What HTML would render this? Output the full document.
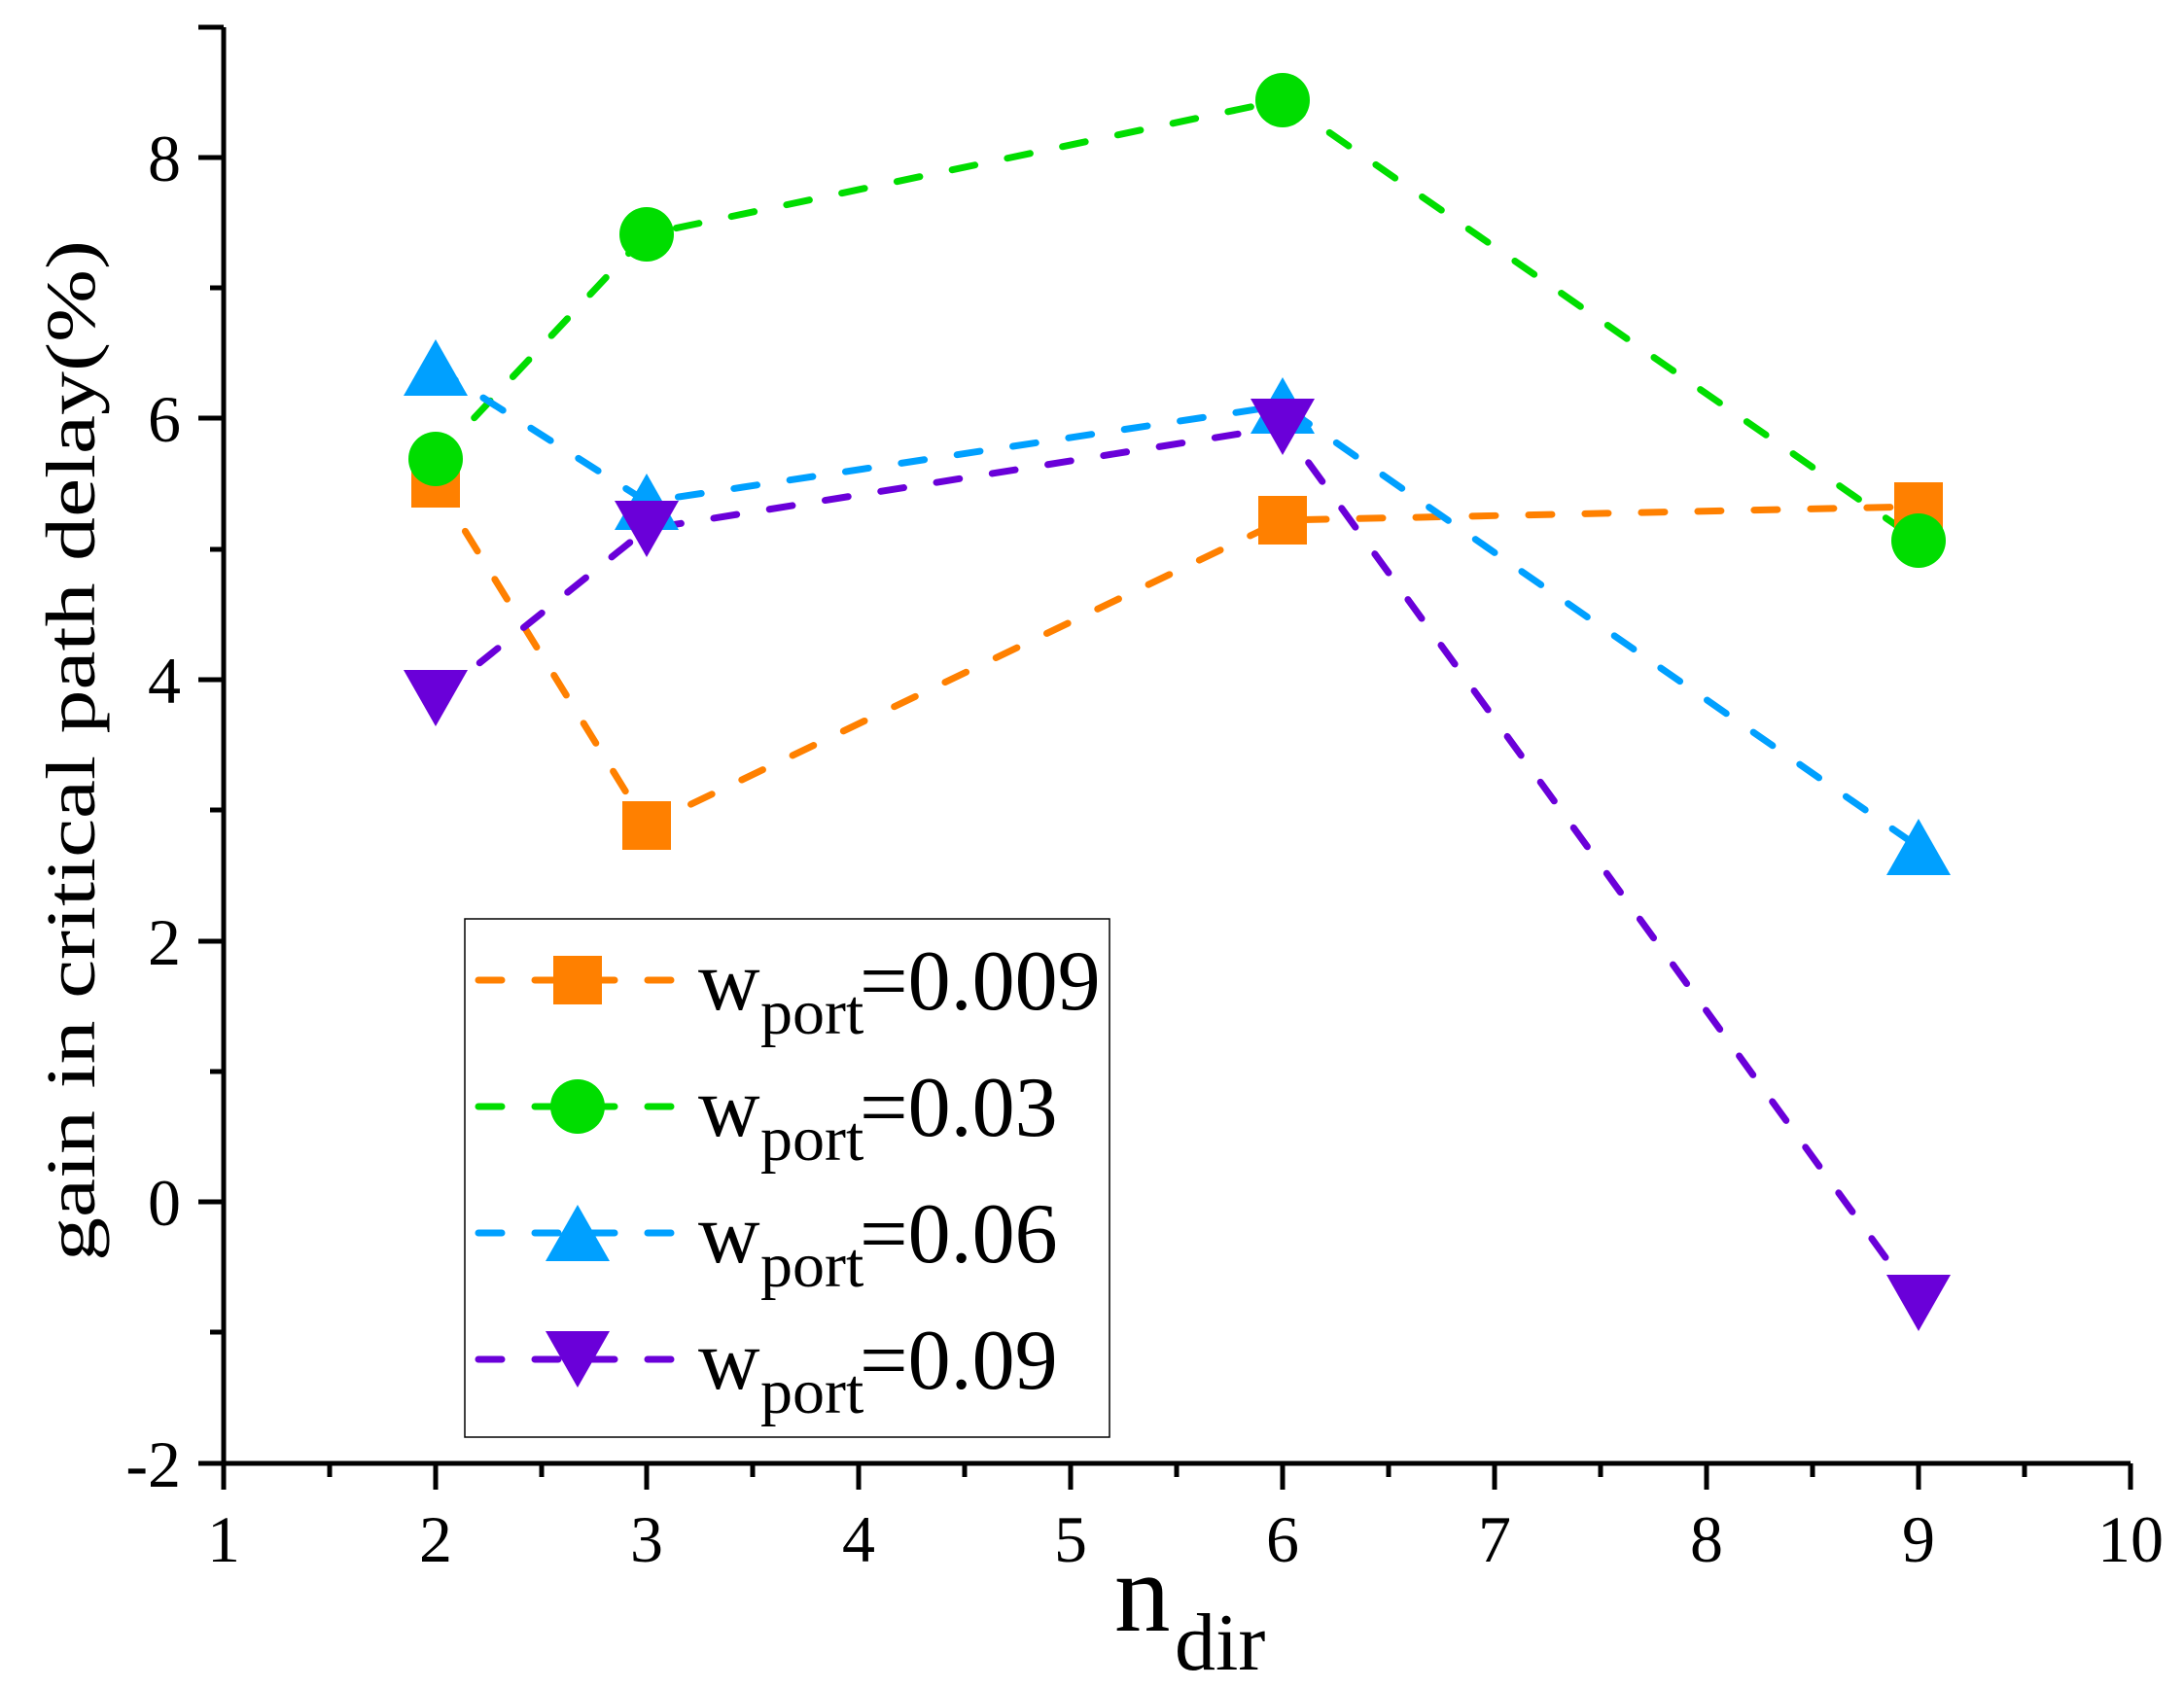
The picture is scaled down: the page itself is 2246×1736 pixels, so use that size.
<!DOCTYPE html>
<html><head><meta charset="utf-8"><style>
html,body{margin:0;padding:0;background:#fff;}
svg{display:block;}
svg text{font-family:"Liberation Serif","Times New Roman",Times,serif !important;fill:#000;font-weight:normal;}
</style></head><body>
<svg width="2246" height="1736" viewBox="0 0 2246 1736" xmlns="http://www.w3.org/2000/svg" font-family="Liberation Serif, Times New Roman, serif">
<g stroke="#000" stroke-width="5" fill="none">
<line x1="230" y1="28" x2="230" y2="1507"/>
<line x1="204" y1="1505" x2="2191" y2="1505"/>
<line x1="2191" y1="1505" x2="2191" y2="1532"/>
<line x1="204" y1="28" x2="230" y2="28"/>
<line x1="230" y1="1505" x2="230" y2="1532"/>
<line x1="448" y1="1505" x2="448" y2="1532"/>
<line x1="665" y1="1505" x2="665" y2="1532"/>
<line x1="883" y1="1505" x2="883" y2="1532"/>
<line x1="1101" y1="1505" x2="1101" y2="1532"/>
<line x1="1319" y1="1505" x2="1319" y2="1532"/>
<line x1="1537" y1="1505" x2="1537" y2="1532"/>
<line x1="1755" y1="1505" x2="1755" y2="1532"/>
<line x1="1973" y1="1505" x2="1973" y2="1532"/>
<line x1="339" y1="1505" x2="339" y2="1519"/>
<line x1="557" y1="1505" x2="557" y2="1519"/>
<line x1="774" y1="1505" x2="774" y2="1519"/>
<line x1="992" y1="1505" x2="992" y2="1519"/>
<line x1="1210" y1="1505" x2="1210" y2="1519"/>
<line x1="1428" y1="1505" x2="1428" y2="1519"/>
<line x1="1646" y1="1505" x2="1646" y2="1519"/>
<line x1="1864" y1="1505" x2="1864" y2="1519"/>
<line x1="2082" y1="1505" x2="2082" y2="1519"/>
<line x1="204" y1="1505" x2="230" y2="1505"/>
<line x1="204" y1="1236" x2="230" y2="1236"/>
<line x1="204" y1="968" x2="230" y2="968"/>
<line x1="204" y1="699" x2="230" y2="699"/>
<line x1="204" y1="430" x2="230" y2="430"/>
<line x1="204" y1="162" x2="230" y2="162"/>
<line x1="216" y1="1370" x2="230" y2="1370"/>
<line x1="216" y1="1102" x2="230" y2="1102"/>
<line x1="216" y1="833" x2="230" y2="833"/>
<line x1="216" y1="565" x2="230" y2="565"/>
<line x1="216" y1="296" x2="230" y2="296"/>
</g>
<g font-size="68" text-anchor="end">
<text x="186" y="1529">-2</text>
<text x="186" y="1260">0</text>
<text x="186" y="992">2</text>
<text x="186" y="723">4</text>
<text x="186" y="454">6</text>
<text x="186" y="186">8</text>
</g>
<g font-size="68" text-anchor="middle">
<text x="230" y="1606">1</text>
<text x="448" y="1606">2</text>
<text x="665" y="1606">3</text>
<text x="883" y="1606">4</text>
<text x="1101" y="1606">5</text>
<text x="1319" y="1606">6</text>
<text x="1537" y="1606">7</text>
<text x="1755" y="1606">8</text>
<text x="1973" y="1606">9</text>
<text x="2191" y="1606">10</text>
</g>
<text x="1146" y="1677" font-size="115">n</text>
<text x="1208" y="1717" font-size="84">dir</text>
<text transform="translate(97,1297) rotate(-90)" font-size="72" textLength="1050" lengthAdjust="spacingAndGlyphs">gain in critical path delay(%)</text>

<g fill="none" stroke-width="7" stroke-linecap="round" stroke-dasharray="24 34">
<polyline stroke="#FF8000" points="448,497 665,849 1319,535 1973,521"/>
<polyline stroke="#00DD00" points="448,472 665,241 1319,103 1973,556"/>
<polyline stroke="#00A0FF" points="448,378 665,516 1319,417 1973,871"/>
<polyline stroke="#6A00D9" points="448,718 665,544 1319,439 1973,1340"/>
</g>
<g fill="#FF8000">
<rect x="423" y="472" width="50" height="50"/>
<rect x="640" y="824" width="50" height="50"/>
<rect x="1294" y="510" width="50" height="50"/>
<rect x="1948" y="496" width="50" height="50"/>
</g>
<g fill="#00DD00">
<circle cx="448" cy="472" r="28"/>
<circle cx="665" cy="241" r="28"/>
<circle cx="1319" cy="103" r="28"/>
<circle cx="1973" cy="556" r="28"/>
</g>
<g fill="#00A0FF">
<polygon points="448,349 481,407 415,407"/>
<polygon points="665,487 698,545 632,545"/>
<polygon points="1319,388 1352,446 1286,446"/>
<polygon points="1973,842 2006,900 1940,900"/>
</g>
<g fill="#6A00D9">
<polygon points="415,689 481,689 448,747"/>
<polygon points="632,515 698,515 665,573"/>
<polygon points="1286,410 1352,410 1319,468"/>
<polygon points="1940,1311 2006,1311 1973,1369"/>
</g>

<rect x="478" y="945" width="663" height="533" fill="#fff" stroke="#000" stroke-width="1.5"/>
<g fill="none" stroke-width="7" stroke-linecap="round">
<line x1="492" y1="1008" x2="692" y2="1008" stroke="#FF8000" stroke-dasharray="24 34"/>
<line x1="492" y1="1138" x2="692" y2="1138" stroke="#00DD00" stroke-dasharray="24 34"/>
<line x1="492" y1="1268" x2="692" y2="1268" stroke="#00A0FF" stroke-dasharray="24 34"/>
<line x1="492" y1="1398" x2="692" y2="1398" stroke="#6A00D9" stroke-dasharray="24 34"/>
</g>
<rect x="569" y="983" width="50" height="50" fill="#FF8000"/>
<circle cx="594" cy="1138" r="28" fill="#00DD00"/>
<polygon points="594,1239 627,1297 561,1297" fill="#00A0FF"/>
<polygon points="561,1369 627,1369 594,1427" fill="#6A00D9"/>
<g>
<text x="718" y="1038" font-size="88">w</text><text x="782" y="1063" font-size="66">port</text><text x="884" y="1038" font-size="88">=0.009</text>
<text x="718" y="1168" font-size="88">w</text><text x="782" y="1193" font-size="66">port</text><text x="884" y="1168" font-size="88">=0.03</text>
<text x="718" y="1298" font-size="88">w</text><text x="782" y="1323" font-size="66">port</text><text x="884" y="1298" font-size="88">=0.06</text>
<text x="718" y="1428" font-size="88">w</text><text x="782" y="1453" font-size="66">port</text><text x="884" y="1428" font-size="88">=0.09</text>
</g>
</svg>
</body></html>
